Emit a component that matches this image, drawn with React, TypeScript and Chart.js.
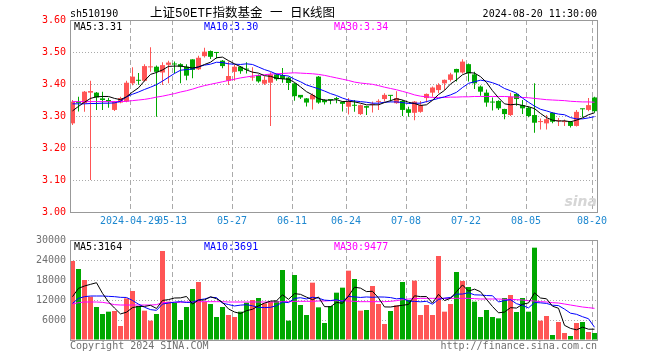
import React, { useEffect, useRef } from "react";
import { Chart, registerables } from "chart.js";

Chart.register(...registerables);

// ---------------- data ----------------
const SYMBOL = "sh510190";
const TITLE = "上证50ETF指数基金 一 日K线图";
const TIMESTAMP = "2024-08-20 11:30:00";
const PRICE_LEGEND = ["MA5:3.31", "MA10:3.30", "MA30:3.34"];
const VOLUME_LEGEND = ["MA5:3164", "MA10:3691", "MA30:9477"];
const COPYRIGHT = "Copyright 2024 SINA.COM";
const SOURCE_URL = "http://finance.sina.com.cn";
const WATERMARK = "sina";

const TICK_INDEX = [10, 17, 27, 37, 46, 56, 66, 76, 87];
const TICK_LABELS = ["2024-04-29", "05-13", "05-27", "06-11", "06-24", "07-08", "07-22", "08-05", "08-20"];

const PRICE_MIN = 3.0;
const PRICE_MAX = 3.6;
const PRICE_STEP = 0.1;
const VOLUME_MIN = 0;
const VOLUME_MAX = 30000;
const VOLUME_STEP = 6000;

const OPEN = [3.277,3.345,3.340,3.373,3.373,3.355,3.350,3.319,3.342,3.345, 3.402,3.413,3.410,3.452,3.454,3.436,3.460,3.463,3.462,3.454, 3.477,3.446,3.487,3.503,3.499,3.473,3.410,3.438,3.454,3.447, 3.420,3.428,3.401,3.404,3.430,3.428,3.420,3.402,3.366,3.355, 3.352,3.423,3.350,3.352,3.355,3.344,3.329,3.334,3.306,3.331, 3.335,3.344,3.353,3.365,3.340,3.347,3.321,3.310,3.313,3.356, 3.373,3.381,3.402,3.413,3.447,3.436,3.462,3.430,3.392,3.373, 3.344,3.347,3.322,3.303,3.369,3.334,3.326,3.303,3.281,3.277, 3.310,3.284,3.281,3.282,3.269,3.323,3.319,3.358];
const HIGH = [3.350,3.360,3.378,3.410,3.375,3.376,3.357,3.347,3.360,3.410, 3.452,3.434,3.462,3.515,3.458,3.468,3.473,3.470,3.465,3.462, 3.477,3.488,3.513,3.505,3.500,3.475,3.470,3.460,3.456,3.468, 3.452,3.430,3.424,3.437,3.432,3.450,3.423,3.404,3.366,3.356, 3.370,3.425,3.352,3.353,3.360,3.346,3.356,3.350,3.336,3.332, 3.345,3.352,3.371,3.365,3.377,3.350,3.329,3.347,3.347,3.370, 3.392,3.402,3.414,3.435,3.448,3.477,3.464,3.438,3.395,3.383, 3.358,3.349,3.323,3.373,3.372,3.350,3.330,3.402,3.292,3.303, 3.312,3.294,3.289,3.284,3.319,3.323,3.356,3.360];
const LOW = [3.272,3.314,3.313,3.100,3.319,3.319,3.326,3.316,3.340,3.343, 3.396,3.398,3.408,3.438,3.298,3.397,3.402,3.433,3.402,3.412, 3.418,3.444,3.483,3.478,3.480,3.449,3.397,3.410,3.432,3.433, 3.410,3.404,3.397,3.269,3.410,3.404,3.381,3.348,3.353,3.330, 3.320,3.338,3.336,3.337,3.340,3.314,3.305,3.313,3.303,3.303, 3.311,3.319,3.345,3.345,3.338,3.300,3.298,3.287,3.310,3.342, 3.360,3.371,3.381,3.408,3.408,3.433,3.408,3.384,3.363,3.329, 3.317,3.319,3.290,3.300,3.332,3.306,3.296,3.248,3.258,3.258, 3.277,3.269,3.269,3.264,3.267,3.296,3.315,3.310];
const CLOSE = [3.345,3.341,3.376,3.378,3.358,3.350,3.345,3.345,3.356,3.404, 3.423,3.410,3.456,3.455,3.438,3.459,3.467,3.461,3.454,3.426, 3.444,3.482,3.501,3.485,3.497,3.456,3.425,3.454,3.440,3.445, 3.422,3.408,3.413,3.430,3.415,3.416,3.403,3.362,3.358,3.342, 3.366,3.342,3.343,3.350,3.353,3.338,3.345,3.332,3.334,3.326, 3.337,3.346,3.366,3.363,3.356,3.319,3.310,3.345,3.334,3.369, 3.389,3.397,3.413,3.430,3.436,3.470,3.433,3.402,3.376,3.342, 3.342,3.324,3.306,3.360,3.353,3.324,3.300,3.279,3.283,3.290, 3.282,3.286,3.283,3.269,3.313,3.321,3.334,3.315];

const MA5 = [3.316,3.330,3.343,3.355,3.360,3.361,3.361,3.355,3.351,3.360, 3.375,3.388,3.410,3.430,3.436,3.444,3.455,3.456,3.456,3.453, 3.450,3.453,3.461,3.468,3.482,3.484,3.473,3.463,3.454,3.444, 3.437,3.434,3.426,3.424,3.418,3.416,3.415,3.405,3.391,3.376, 3.366,3.354,3.350,3.349,3.351,3.345,3.346,3.344,3.340,3.335, 3.335,3.335,3.342,3.348,3.354,3.350,3.343,3.339,3.333,3.335, 3.349,3.367,3.380,3.400,3.413,3.429,3.436,3.434,3.423,3.405, 3.379,3.357,3.338,3.335,3.337,3.333,3.329,3.323,3.308,3.295, 3.287,3.284,3.285,3.282,3.287,3.294,3.304,3.310];
const MA10 = [3.338,3.338,3.338,3.339,3.339,3.340,3.340,3.341,3.346,3.360, 3.368,3.375,3.383,3.390,3.398,3.409,3.421,3.433,3.443,3.445, 3.447,3.454,3.459,3.462,3.468,3.467,3.463,3.462,3.461,3.463, 3.461,3.453,3.445,3.439,3.431,3.427,3.425,3.415,3.407,3.397, 3.391,3.385,3.378,3.370,3.364,3.356,3.350,3.347,3.345,3.343, 3.340,3.340,3.343,3.344,3.344,3.342,3.339,3.340,3.340,3.345, 3.350,3.355,3.360,3.366,3.374,3.389,3.402,3.407,3.412,3.409, 3.404,3.397,3.386,3.379,3.371,3.356,3.343,3.331,3.321,3.316, 3.310,3.306,3.304,3.295,3.291,3.291,3.294,3.298];
const MA30 = [3.345,3.345,3.345,3.345,3.345,3.345,3.345,3.345,3.345,3.346, 3.348,3.350,3.352,3.355,3.359,3.362,3.366,3.370,3.375,3.379, 3.384,3.390,3.395,3.399,3.403,3.407,3.411,3.415,3.419,3.422, 3.425,3.427,3.429,3.431,3.432,3.433,3.434,3.435,3.434,3.433, 3.432,3.430,3.427,3.423,3.419,3.415,3.411,3.406,3.403,3.401, 3.399,3.395,3.390,3.386,3.382,3.377,3.372,3.366,3.362,3.360, 3.358,3.358,3.358,3.359,3.359,3.360,3.360,3.361,3.361,3.361, 3.361,3.361,3.361,3.360,3.359,3.358,3.357,3.355,3.353,3.351, 3.350,3.349,3.348,3.346,3.345,3.344,3.344,3.343];

const VOLUME = [23700,21300,18000,13000,9900,7800,8500,8700,4200,12500, 14700,10200,8800,5800,7800,26700,11500,11200,6000,9900, 15300,17400,11500,10800,6900,9900,7500,6900,8500,11200, 12000,12600,11000,11500,11700,21000,5800,19500,10500,7500, 17200,9800,5100,10200,14200,15700,20800,18300,8800,9000, 16200,10800,4800,8700,10400,17400,12000,17800,7500,10500, 7500,25200,8500,10800,20400,17700,15900,11500,6900,9000, 6900,6500,12600,13500,8400,12600,8500,27700,5800,7200, 1500,5400,2100,1200,5100,5400,2400,2100];
const VMA5 = [13000,15500,16200,16700,17180,14000,11440,9580,7820,8340, 9720,10060,10080,10400,9460,11860,12120,12600,12640,13060, 10780,11960,12020,12980,12380,11300,9320,8400,7940,8800, 9220,10240,11060,11660,11760,13560,12200,13900,13700,12860, 12100,12900,10020,9960,11300,11000,13200,15840,15560,14520, 14620,12620,9920,9900,10180,10420,10660,13260,13020,13040, 11060,13700,11840,12500,14480,16520,14660,15260,14480,12200, 10040,8160,8380,9700,9580,10720,11120,14140,12600,12360, 10140,9520,4400,3480,3060,3840,3240,3240];
const VMA10 = [11000,12500,13000,13200,13200,13200,13100,13000,12800,12760, 11860,10750,9830,9110,8900,10790,11090,11340,11520,11260, 11320,12040,12310,12810,12720,11040,10640,10210,10460,10590, 10260,9780,9730,9800,10280,11390,11220,12480,12680,12310, 12830,12550,11960,11830,12080,11550,13050,12930,12760,12910, 12810,12910,12880,12730,12350,12520,11640,11590,11460,11610, 10740,12180,12550,12760,13760,13790,14180,13550,13490,13340, 13280,11410,11820,12090,10890,10380,9640,11260,11150,10970, 10430,10320,9270,8040,7710,6990,6380,3820];
const VMA30 = [10800,11200,11400,11400,11400,11300,11000,10600,10500,10500, 10500,10500,10500,10500,10600,11200,11300,11300,11300,11400, 11400,11500,11500,11500,11500,11500,11400,11400,11400,11400, 11400,11400,11400,11400,11400,11500,11500,11600,11600,11600, 11600,11700,11700,11800,11800,11800,11700,11600,11500,11500, 11500,11500,11500,11600,11800,12100,12300,12400,12500,12500, 12500,12500,12500,12500,12500,12500,12500,12400,12300,12300, 12300,12300,12200,12200,12100,12000,11800,11700,11500,11400, 11200,11100,10800,10500,10200,9900,9700,9500];

// ---------------- styles ----------------
const UP = "#ff5555";
const DOWN = "#00a800";
const MA5_COLOR = "#000000";
const MA10_COLOR = "#0000ff";
const MA30_COLOR = "#ff00ff";
const GRID_COLOR = "#aaaaaa";
const FRAME_COLOR = "#999999";
const DATE_COLOR = "#1e88d0";
const MONO = "'DejaVu Sans Mono', monospace";
const SLOT_COUNT = OPEN.length;
const CENTER = 5 / 12; // position of a candle inside its day slot

const isUp = (i: number) => CLOSE[i] >= OPEN[i];
const candleColors = OPEN.map((_, i) => (isUp(i) ? UP : DOWN));
const pts = (arr: number[]) => arr.map((y, i) => ({ x: i + CENTER, y }));

function xScale(showLabels: boolean, height: number): any {
  return {
    type: "linear",
    min: 0,
    max: SLOT_COUNT,
    offset: false,
    afterBuildTicks: (s: any) => {
      s.ticks = TICK_INDEX.map((v) => ({ value: v }));
    },
    afterFit: (s: any) => {
      s.height = height;
    },
    ticks: {
      display: showLabels,
      autoSkip: false,
      maxRotation: 0,
      minRotation: 0,
      padding: 3,
      color: DATE_COLOR,
      font: { family: MONO, size: 10 },
      callback: (_v: any, idx: number) => TICK_LABELS[idx] ?? "",
    },
    grid: { color: GRID_COLOR, lineWidth: 1, drawTicks: false, offset: false },
    border: { display: false, dash: [5, 3] },
  };
}

function lineDs(data: number[], color: string): any {
  return {
    type: "line",
    data: pts(data),
    borderColor: color,
    borderWidth: 1,
    pointRadius: 0,
    tension: 0,
    fill: false,
  };
}

function drawFrame(chart: any) {
  const { ctx, chartArea: a } = chart;
  ctx.save();
  ctx.strokeStyle = FRAME_COLOR;
  ctx.lineWidth = 1;
  ctx.strokeRect(a.left + 0.5, a.top + 0.5, a.right - a.left - 1, a.bottom - a.top);
  ctx.restore();
}

function drawLegend(chart: any, texts: string[]) {
  const { ctx, chartArea: a } = chart;
  const colors = [MA5_COLOR, MA10_COLOR, MA30_COLOR];
  const offs = [4, 134, 264];
  ctx.save();
  ctx.font = `10px ${MONO}`;
  ctx.textBaseline = "alphabetic";
  ctx.textAlign = "left";
  texts.forEach((t, k) => {
    ctx.fillStyle = colors[k];
    ctx.fillText(t, a.left + offs[k], a.top + 10);
  });
  ctx.restore();
}

const pricePlugin = {
  id: "priceDecor",
  afterDraw(chart: any) {
    const { ctx, chartArea: a } = chart;
    drawFrame(chart);
    drawLegend(chart, PRICE_LEGEND);
    ctx.save();
    ctx.textBaseline = "alphabetic";
    ctx.fillStyle = "#000";
    ctx.font = `10px ${MONO}`;
    ctx.textAlign = "left";
    ctx.fillText(SYMBOL, a.left, 17);
    ctx.textAlign = "right";
    ctx.fillText(TIMESTAMP, a.right - 1, 17);
    ctx.textAlign = "left";
    ctx.font = "12.5px 'Liberation Mono', 'Noto Sans CJK SC', monospace";
    ctx.fillText(TITLE, 150, 17);
    // watermark
    ctx.font = "italic bold 14px 'DejaVu Sans', sans-serif";
    ctx.fillStyle = "#d6d6d6";
    ctx.textAlign = "right";
    ctx.fillText(WATERMARK, a.right - 1, a.bottom - 6);
    ctx.restore();
  },
};

const volumePlugin = {
  id: "volumeDecor",
  afterDraw(chart: any) {
    const { ctx, chartArea: a } = chart;
    drawFrame(chart);
    drawLegend(chart, VOLUME_LEGEND);
    ctx.save();
    ctx.font = `10px ${MONO}`;
    ctx.textBaseline = "alphabetic";
    ctx.fillStyle = "#707070";
    ctx.textAlign = "left";
    ctx.fillText(COPYRIGHT, a.left, a.bottom + 9);
    ctx.textAlign = "right";
    ctx.fillText(SOURCE_URL, a.right - 1, a.bottom + 9);
    ctx.restore();
  },
};

function priceConfig(): any {
  return {
    type: "bar",
    data: {
      datasets: [
        lineDs(MA5, MA5_COLOR),
        lineDs(MA10, MA10_COLOR),
        lineDs(MA30, MA30_COLOR),
        {
          type: "bar",
          data: OPEN.map((o, i) => ({ x: i + CENTER, y: [o, CLOSE[i]] })),
          backgroundColor: candleColors,
          borderWidth: 0,
          barThickness: 5,
          grouped: false,
          inflateAmount: 0,
          minBarLength: 1,
        },
        {
          type: "bar",
          data: LOW.map((l, i) => ({ x: i + CENTER, y: [l, HIGH[i]] })),
          backgroundColor: candleColors,
          borderWidth: 0,
          barThickness: 1,
          grouped: false,
          inflateAmount: 0,
        },
      ],
    },
    options: {
      animation: false,
      responsive: false,
      devicePixelRatio: 1,
      layout: { padding: { left: 0, right: 62, top: 20, bottom: 0 } },
      plugins: { legend: { display: false }, tooltip: { enabled: false }, title: { display: false } },
      events: [],
      scales: {
        x: xScale(true, 23),
        y: {
          type: "linear",
          min: PRICE_MIN,
          max: PRICE_MAX,
          beginAtZero: false,
          afterFit: (s: any) => {
            s.width = 70;
          },
          ticks: {
            stepSize: PRICE_STEP,
            padding: 4,
            color: "#ff0000",
            font: { family: MONO, size: 10 },
            callback: (v: any) => Number(v).toFixed(2),
          },
          grid: { color: GRID_COLOR, lineWidth: 1, drawTicks: false },
          border: { display: false, dash: [1, 2] },
        },
      },
    },
    plugins: [pricePlugin],
  };
}

function volumeConfig(): any {
  return {
    type: "bar",
    data: {
      datasets: [
        lineDs(VMA5, MA5_COLOR),
        lineDs(VMA10, MA10_COLOR),
        lineDs(VMA30, MA30_COLOR),
        {
          type: "bar",
          data: VOLUME.map((v, i) => ({ x: i + CENTER, y: v })),
          backgroundColor: candleColors,
          borderWidth: 0,
          barThickness: 5,
          grouped: false,
          inflateAmount: 0,
        },
      ],
    },
    options: {
      animation: false,
      responsive: false,
      devicePixelRatio: 1,
      layout: { padding: { left: 0, right: 62, top: 20, bottom: 0 } },
      plugins: { legend: { display: false }, tooltip: { enabled: false }, title: { display: false } },
      events: [],
      scales: {
        x: xScale(false, 20),
        y: {
          type: "linear",
          min: VOLUME_MIN,
          max: VOLUME_MAX,
          afterFit: (s: any) => {
            s.width = 70;
          },
          ticks: {
            stepSize: VOLUME_STEP,
            padding: 4,
            color: "#707070",
            font: { family: MONO, size: 10 },
            callback: (v: any) => (Number(v) === 0 ? "" : String(v)),
          },
          grid: { color: GRID_COLOR, lineWidth: 1, drawTicks: false },
          border: { display: false, dash: [1, 2] },
        },
      },
    },
    plugins: [volumePlugin],
  };
}

export default function App() {
  const priceRef = useRef<HTMLCanvasElement>(null);
  const volRef = useRef<HTMLCanvasElement>(null);

  useEffect(() => {
    const pc = new Chart(priceRef.current as HTMLCanvasElement, priceConfig());
    const vc = new Chart(volRef.current as HTMLCanvasElement, volumeConfig());
    return () => {
      pc.destroy();
      vc.destroy();
    };
  }, []);

  return (
    <div
      style={{
        position: "fixed",
        left: 0,
        top: 0,
        width: 660,
        height: 360,
        background: "#ffffff",
        overflow: "hidden",
      }}
    >
      <canvas
        ref={priceRef}
        width={660}
        height={235}
        style={{ position: "absolute", left: 0, top: 0, width: 660, height: 235 }}
      />
      <canvas
        ref={volRef}
        width={660}
        height={140}
        style={{ position: "absolute", left: 0, top: 220, width: 660, height: 140 }}
      />
    </div>
  );
}
